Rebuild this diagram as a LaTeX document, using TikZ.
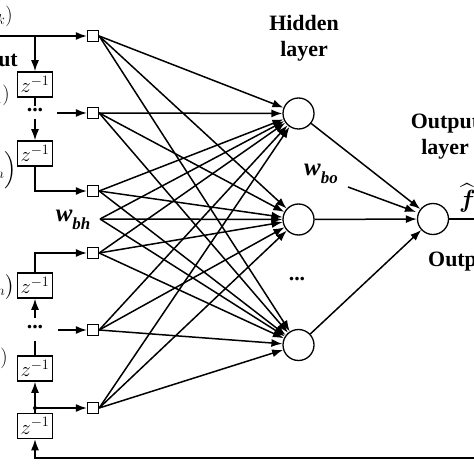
\documentclass[tikz,border=0pt]{standalone}
\usepackage{amsmath}
\usepackage{fontspec}
\setmainfont{Liberation Serif}
\usetikzlibrary{arrows.meta}
\begin{document}
\begin{tikzpicture}[x=1bp,y=-1bp,
  conn/.style={line width=1.5bp, -{Latex[length=11bp,width=8bp]}},
  plain/.style={line width=1.5bp},
  sq/.style={draw, line width=1.3bp, minimum width=11bp, minimum height=11bp, inner sep=0pt},
  neuron/.style={draw, circle, line width=1.3bp, minimum size=31bp, inner sep=0pt},
  delay/.style={draw, line width=1.5bp, minimum width=35bp, minimum height=25bp, inner sep=0pt, font=\fontsize{20}{20}\selectfont},
  lbl/.style={font=\fontsize{22}{26}\selectfont\bfseries, align=center, inner sep=0pt},
  cut/.style={anchor=east, inner sep=0pt, font=\fontsize{21}{21}\selectfont},
  dots/.style={inner sep=0pt, font=\fontsize{22}{22}\selectfont\bfseries}
]
\useasboundingbox (0,0) rectangle (474,474);
% input squares
\node[sq] (i1) at (93,36) {};
\node[sq] (i2) at (93,113) {};
\node[sq] (i3) at (93,191) {};
\node[sq] (i4) at (93,253) {};
\node[sq] (i5) at (93,330) {};
\node[sq] (i6) at (93,408) {};
\coordinate (iw) at (100,219);
% neurons
\node[neuron] (h1) at (298.5,113.5) {};
\node[neuron] (h2) at (298.5,219.5) {};
\node[neuron] (h3) at (298.5,345) {};
\node[neuron] (o) at (433,219) {};
% weights input->hidden
\foreach \i in {i1,i2,i3,i4,i5,i6}{
  \foreach \h in {h1,h2,h3}{
    \draw[conn] (\i.east) -- (\h);
  }
}
\foreach \h in {h1,h2,h3}{\draw[conn] (iw) -- (\h);}
% hidden -> output
\foreach \h in {h1,h2,h3}{\draw[conn] (\h) -- (o);}
\coordinate (oe) at (474,219);
\draw[plain] (o) -- (oe);
% delay boxes
\node[delay] (d1) at (35,84.5) {$z^{-1}$};
\node[delay] (d2) at (35,153.5) {$z^{-1}$};
\node[delay] (d3) at (35,285.5) {$z^{-1}$};
\node[delay] (d4) at (35,368.5) {$z^{-1}$};
\node[delay] (d5) at (35,426) {$z^{-1}$};
% upper tapped delay line
\coordinate (a0) at (0,36);
\coordinate (b1) at (35,36);
\draw[conn] (a0) -- (i1.west);
\draw[conn] (b1) -- (d1.north);
\node[dots] (dt1) at (35,110) {...};
\coordinate (c1) at (35,106);
\coordinate (c2) at (35,119);
\coordinate (c3) at (57,113);
\draw[plain] (d1.south) -- (c1);
\draw[conn] (c2) -- (d2.north);
\draw[conn] (c3) -- (i2.west);
\draw[conn] (d2.south) |- (i3.west);
% lower tapped delay line
\draw[conn] (d3.north) |- (i4.west);
\node[dots] (dt2) at (35,327) {...};
\coordinate (c4) at (35,318);
\coordinate (c5) at (58,330);
\coordinate (c6) at (35,341);
\draw[conn] (c4) -- (d3.south);
\draw[conn] (c5) -- (i5.west);
\draw[plain] (c6) -- (d4.north);
\coordinate (j) at (35,408);
\fill (j) circle (2bp);
\draw[conn] (j) -- (d4.south);
\draw[conn] (j) -- (i6.west);
\draw[plain] (d5.north) -- (j);
\coordinate (fb) at (474,458);
\draw[conn] (fb) -| (d5.south);
% hidden dots
\node[dots] (dt3) at (297,279) {...};
% labels
\node[lbl] (hl) at (304,38) {Hidden\\layer};
\node[lbl] (ol) at (445,137) {Output\\layer};
\node[lbl, anchor=west] (ot) at (428,262) {Output};
\node[lbl, anchor=east] (it) at (18,62) {Input};
\node[inner sep=0pt] (wbh) at (73,220) {\fontsize{25}{25}\selectfont\bfseries\itshape w\raisebox{-0.3em}{\fontsize{17}{17}\selectfont bh}};
\node[inner sep=0pt] (wbo) at (321,174) {\fontsize{25}{25}\selectfont\bfseries\itshape w\raisebox{-0.3em}{\fontsize{17}{17}\selectfont bo}};
\coordinate (wa) at (348,187);
\coordinate (wb) at (416,212);
\draw[conn] (wa) -- (wb);
\node[anchor=west, inner sep=0pt] (fh) at (459,198) {\fontsize{24}{24}\selectfont$\widehat{\boldsymbol{f}}$};
% cut-off input labels
\node[cut] (l1) at (13,16) {$f(t_k)$};
\node[cut] (l2) at (10,95) {$f(t_{k-1})$};
\node[cut] (l3) at (17,170) {$f\Big(t_{k-n}\Big)$};
\node[cut] (l4) at (15,287) {$u\big(t_{k-m}\big)$};
\node[cut] (l5) at (8,358) {$u(t_k)$};
\end{tikzpicture}
\end{document}
